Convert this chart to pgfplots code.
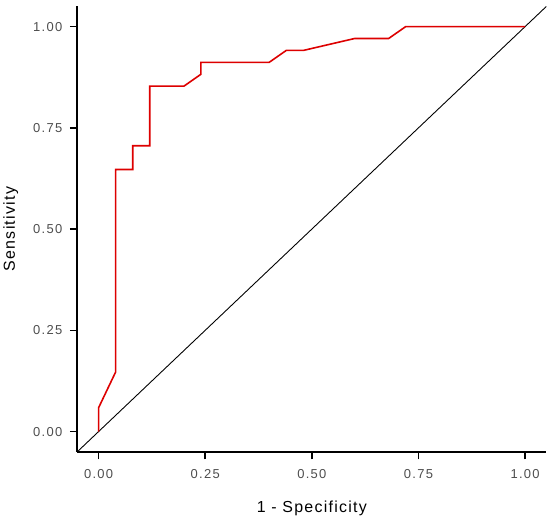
\documentclass[border=0pt]{standalone}
\usepackage{pgfplots}
\pgfplotsset{compat=1.18}
\usepackage{fontspec}
\setmainfont{Liberation Sans}
\newfontfamily\tickfont[LetterSpace=10]{Liberation Sans}
\newfontfamily\labfont[LetterSpace=8]{Liberation Sans}
\definecolor{rocred}{HTML}{DD0000}
\definecolor{tickgray}{HTML}{4D4D4D}
\begin{document}
\begin{tikzpicture}
\begin{axis}[
  scale only axis,
  width=470.8pt, height=447pt,
  xmin=-0.05, xmax=1.05, ymin=-0.05, ymax=1.05,
  axis x line=bottom, axis y line=left,
  axis line style={-, line width=1.6pt, black},
  tick align=outside,
  major tick length=7.5pt,
  every tick/.style={black, line width=1.6pt},
  xtick={0,0.25,0.5,0.75,1},
  ytick={0,0.25,0.5,0.75,1},
  xticklabels={0.00,0.25,0.50,0.75,1.00},
  yticklabels={0.00,0.25,0.50,0.75,1.00},
  ticklabel style={font=\tickfont\fontsize{13}{15}\selectfont, text=tickgray},
  xticklabel style={yshift=-7pt},
  yticklabel style={xshift=-4pt},
  clip=true,
]
\addplot[black, line width=0.9pt] coordinates {(-0.05,-0.05) (1.05,1.05)};
\addplot[rocred, line width=1.6pt, line join=miter] coordinates {
(0,0) (0,0.0588) (0.04,0.1471) (0.04,0.6471) (0.08,0.6471) (0.08,0.7059)
(0.12,0.7059) (0.12,0.8529) (0.20,0.8529) (0.24,0.8824) (0.24,0.9118)
(0.40,0.9118) (0.44,0.9412) (0.48,0.9412) (0.60,0.9706) (0.68,0.9706)
(0.72,1) (1,1)};
\end{axis}
\node[anchor=base, font=\labfont\fontsize{16}{19}\selectfont] at ([yshift=-60.6pt]current axis.south) {1 - Specificity};
\node[anchor=base, rotate=90, font=\labfont\fontsize{16}{19}\selectfont] at ([xshift=-62.6pt]current axis.west) {Sensitivity};
\path ([xshift=-75.6pt,yshift=-65.6pt]current axis.south west) rectangle ++(550pt,519pt);
\end{tikzpicture}
\end{document}
